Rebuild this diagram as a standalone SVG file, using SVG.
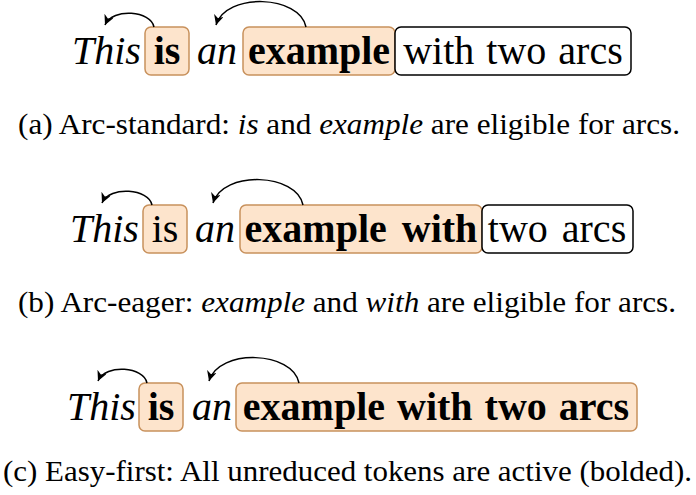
<svg xmlns="http://www.w3.org/2000/svg" width="696" height="495" viewBox="0 0 696 495">
<style>
text{font-family:'Liberation Serif','Times New Roman',Times,'Nimbus Roman',serif}
.w{font-size:40px;fill:#000}
.i{font-style:italic}
.b{font-weight:bold}
.m{text-anchor:middle}
.act{fill:#fde4cc;stroke:#c8915c;stroke-width:1.5}
.buf{fill:#fff;stroke:#000;stroke-width:1.5}
.arc{fill:none;stroke:#000;stroke-width:1.5}
.cap{font-size:30px;fill:#000}
</style>
<defs>
<marker id="ah" markerUnits="userSpaceOnUse" markerWidth="12" markerHeight="10" refX="10" refY="5" orient="auto">
<path d="M0,0 L10,5 L0,10 L3,5 z" fill="#000"/>
</marker>
</defs>

<!-- Row (a) -->
<g id="row-a">
<g id="a-this"><text class="w i" x="72" y="64">This</text></g>
<g id="a-is"><rect class="act" x="145" y="27" width="44" height="48" rx="6"/><text class="w b m" x="167" y="64">is</text></g>
<g id="a-an"><text class="w i" x="197" y="64">an</text></g>
<g id="a-example"><rect class="act" x="243" y="27" width="152" height="48" rx="6"/><text class="w b m" x="319" y="64">example</text></g>
<g id="a-buffer"><rect class="buf" x="395" y="27" width="236" height="48" rx="6"/><text class="w m" x="513" y="64" word-spacing="2">with two arcs</text></g>
<text id="cap-a" class="cap" x="18" y="134" textLength="662" lengthAdjust="spacingAndGlyphs">(a) Arc-standard: <tspan class="i">is</tspan> and <tspan class="i">example</tspan> are eligible for arcs.</text>
</g>

<!-- Row (b) -->
<g id="row-b">
<g id="b-this"><text class="w i" x="70" y="242">This</text></g>
<g id="b-is"><rect class="act" x="143" y="205" width="44" height="48" rx="6"/><text class="w m" x="165" y="242">is</text></g>
<g id="b-an"><text class="w i" x="195" y="242">an</text></g>
<g id="b-examplewith"><rect class="act" x="240" y="205" width="242" height="48" rx="6"/><text class="w b m" x="361" y="242" word-spacing="5">example with</text></g>
<g id="b-buffer"><rect class="buf" x="482" y="205" width="151" height="48" rx="6"/><text class="w m" x="557" y="242" word-spacing="4">two arcs</text></g>
<text id="cap-b" class="cap" x="18" y="312" textLength="658" lengthAdjust="spacingAndGlyphs">(b) Arc-eager: <tspan class="i">example</tspan> and <tspan class="i">with</tspan> are eligible for arcs.</text>
</g>

<!-- Row (c) -->
<g id="row-c">
<g id="c-this"><text class="w i" x="67" y="420">This</text></g>
<g id="c-is"><rect class="act" x="139" y="383" width="44" height="48" rx="6"/><text class="w b m" x="161" y="420">is</text></g>
<g id="c-an"><text class="w i" x="192" y="420">an</text></g>
<g id="c-rest"><rect class="act" x="236" y="383" width="401" height="48" rx="6"/><text class="w b m" x="436" y="420" word-spacing="2">example with two arcs</text></g>
<text id="cap-c" class="cap" x="3" y="481" textLength="689" lengthAdjust="spacingAndGlyphs">(c) Easy-first: All unreduced tokens are active (bolded).</text>
</g>

<!-- Connectors -->
<g id="connectors">
<path class="arc" marker-end="url(#ah)" d="M154,27 C151,11 113,7 105,25"/>
<path class="arc" marker-end="url(#ah)" d="M306,27 C300,-5 226,-8 216,25"/>
<path class="arc" marker-end="url(#ah)" d="M152,205 C149,189 110,185 102,203"/>
<path class="arc" marker-end="url(#ah)" d="M303,205 C297,173 223,170 213,203"/>
<path class="arc" marker-end="url(#ah)" d="M147,383 C144,367 106,363 98,381"/>
<path class="arc" marker-end="url(#ah)" d="M299,383 C293,351 219,348 209,381"/>
</g>
</svg>
